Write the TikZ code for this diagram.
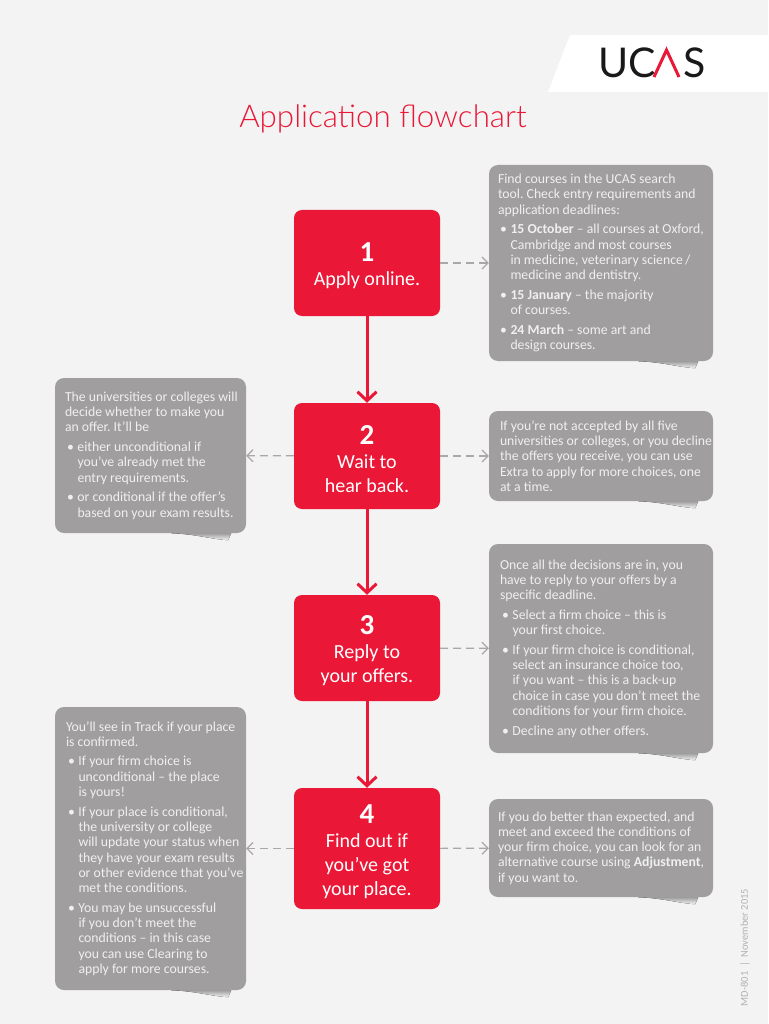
\documentclass[tikz,border=0pt]{standalone}
\usepackage{fontspec}
\setmainfont{Carlito}
\newfontfamily\titlefont{Lato Light}
\newfontfamily\logofont{Lato}
\usetikzlibrary{arrows.meta,calc,positioning}
\definecolor{ucasred}{HTML}{EA1736}
\definecolor{boxgrey}{HTML}{A09E9F}
\definecolor{pagegrey}{HTML}{F3F3F3}
\definecolor{dashgrey}{HTML}{A8A8A8}
\newcommand{\bul}{\hspace*{2pt}\makebox[10.5pt][l]{\textbullet}}
\newcommand{\ind}{\hspace*{12.5pt}}
\newcommand{\gap}{\\[4.3pt]}
\tikzset{
    stepbox/.style={fill=ucasred,rounded corners=8pt,text=white,minimum width=146pt,align=center,inner sep=0pt,
        font=\fontsize{20}{24}\selectfont},
    notebox/.style={fill=boxgrey,rounded corners=9pt,minimum width=#1,inner sep=0pt},
    notebox/.default=224pt,
    notetext/.style={text=white!94!black,align=left,inner sep=0pt,
        font=\fontsize{13.75}{15.3}\selectfont\frenchspacing},
    flowarrow/.style={draw=ucasred,line width=3pt,-{Straight Barb[length=9pt,width=19pt,line width=3pt]}},
    notearrow/.style={draw=dashgrey,line width=1.2pt,dash pattern=on 8pt off 5pt,-{Straight Barb[length=6pt,width=12pt,line width=1.2pt]}},
    noteshadow/.style={top color=black!38,bottom color=pagegrey}
}
\newcommand{\num}[1]{{\fontsize{29}{29}\selectfont\bfseries\rule{0pt}{25pt}#1}}
\begin{document}
\begin{tikzpicture}[x=1pt,y=-1pt]
  \useasboundingbox (0,0) rectangle (768,1024);
  \fill[pagegrey] (0,0) rectangle (768,1024);
  % logo and title
  \fill[white] (570,35) -- (768,35) -- (768,92) -- (548,92) -- cycle;
  \node[anchor=west,inner sep=0pt,font=\logofont\fontsize{41}{41}\selectfont,text=black!90] (logoa) at (598,63) {UC};
  \node[anchor=west,inner sep=0pt,font=\logofont\fontsize{41}{41}\selectfont,text=black!90] (logob) at (683.5,63) {S};
  \draw[ucasred,line width=3pt] (654,77) -- (666.5,50) -- (679,77);
  \node[font=\titlefont\fontsize{31.3}{33}\selectfont,text=ucasred] (title) at (383,119) {Application flowchart};

  % steps
  \node[stepbox,minimum height=106pt] (stepa) at (367,263) {\num{1}\\Apply online.};
  \node[stepbox,minimum height=106pt] (stepb) at (367,456) {\num{2}\\Wait to\\hear back.};
  \node[stepbox,minimum height=106pt] (stepc) at (367,648) {\num{3}\\Reply to\\your offers.};
  \node[stepbox,minimum height=121pt] (stepd) at (367,848.5) {\num{4}\\Find out if\\you’ve got\\your place.};

  % notes
  \node[notebox,minimum height=196pt] (notea) at (601,263) {};
  \node[notetext,right=9pt of notea.west] (texta) {%
    Find courses in the UCAS search\\tool. Check entry requirements and\\application deadlines:\gap
    \bul\textbf{15 October} – all courses at Oxford,\\\ind Cambridge and most courses\\\ind in medicine, veterinary science\,/\\\ind medicine and dentistry.\gap
    \bul\textbf{15 January} – the majority\\\ind of courses.\gap
    \bul\textbf{24 March} – some art and\\\ind design courses.};
  \node[notebox=191pt,minimum height=155pt] (noteb) at (150.5,455.5) {};
  \node[notetext,right=10pt of noteb.west] (textb) {%
    The universities or colleges will\\decide whether to make you\\an offer. It’ll be\gap
    \bul either unconditional if\\\ind you’ve already met the\\\ind entry requirements.\gap
    \bul or conditional if the offer’s\\\ind based on your exam results.};
  \node[notebox,minimum height=90pt] (notec) at (601,456) {};
  \node[notetext,right=11pt of notec.west] (textc) {%
    If you’re not accepted by all five\\universities or colleges, or you decline\\the offers you receive, you can use\\Extra to apply for more choices, one\\at a time.};
  \node[notebox,minimum height=209pt] (noted) at (601,648.5) {};
  \node[notetext,right=11pt of noted.west] (textd) {%
    Once all the decisions are in, you\\have to reply to your offers by a\\specific deadline.\gap
    \bul Select a firm choice – this is\\\ind your first choice.\gap
    \bul If your firm choice is conditional,\\\ind select an insurance choice too,\\\ind if you want – this is a back-up\\\ind choice in case you don’t meet the\\\ind conditions for your firm choice.\gap
    \bul Decline any other offers.};
  \node[notebox=191pt,minimum height=283pt] (notee) at (150.5,848.5) {};
  \node[notetext,right=11pt of notee.west] (texte) {%
    You’ll see in Track if your place\\is confirmed.\gap
    \bul If your firm choice is\\\ind unconditional – the place\\\ind is yours!\gap
    \bul If your place is conditional,\\\ind the university or college\\\ind will update your status when\\\ind they have your exam results\\\ind or other evidence that you’ve\\\ind met the conditions.\gap
    \bul You may be unsuccessful\\\ind if you don’t meet the\\\ind conditions – in this case\\\ind you can use Clearing to\\\ind apply for more courses.};
  \node[notebox,minimum height=98pt] (notef) at (601,848) {};
  \node[notetext,right=9pt of notef.west] (textf) {%
    If you do better than expected, and\\meet and exceed the conditions of\\your firm choice, you can look for an\\alternative course using \textbf{Adjustment},\\if you want to.};

  \foreach \n in {notea,noteb,notec,noted,notee,notef}{
    \fill[noteshadow] ($(\n.south east)+(-75,0)$) .. controls ($(\n.south east)+(-50,1)$) and ($(\n.south east)+(-35,6)$) .. ($(\n.south east)+(-18,7)$) -- ($(\n.south east)+(-15,0)$) -- cycle;
  }

  % connectors
  \draw[flowarrow] (stepa) -- (stepb);
  \draw[flowarrow] (stepb) -- (stepc);
  \draw[flowarrow] (stepc) -- (stepd);
  \draw[notearrow] (stepa) -- (notea);
  \draw[notearrow] (stepb) -- (notec);
  \draw[notearrow] (stepb) -- (noteb);
  \draw[notearrow] (stepc) -- (noted);
  \draw[notearrow] (stepd) -- (notef);
  \draw[notearrow] (stepd) -- (notee);

  \node[rotate=90,font=\fontsize{10.5}{10}\selectfont,text=black!30,inner sep=0pt] (imprint) at (745,947.5) {MD-801\ \ |\ \ November 2015};
\end{tikzpicture}
\end{document}
